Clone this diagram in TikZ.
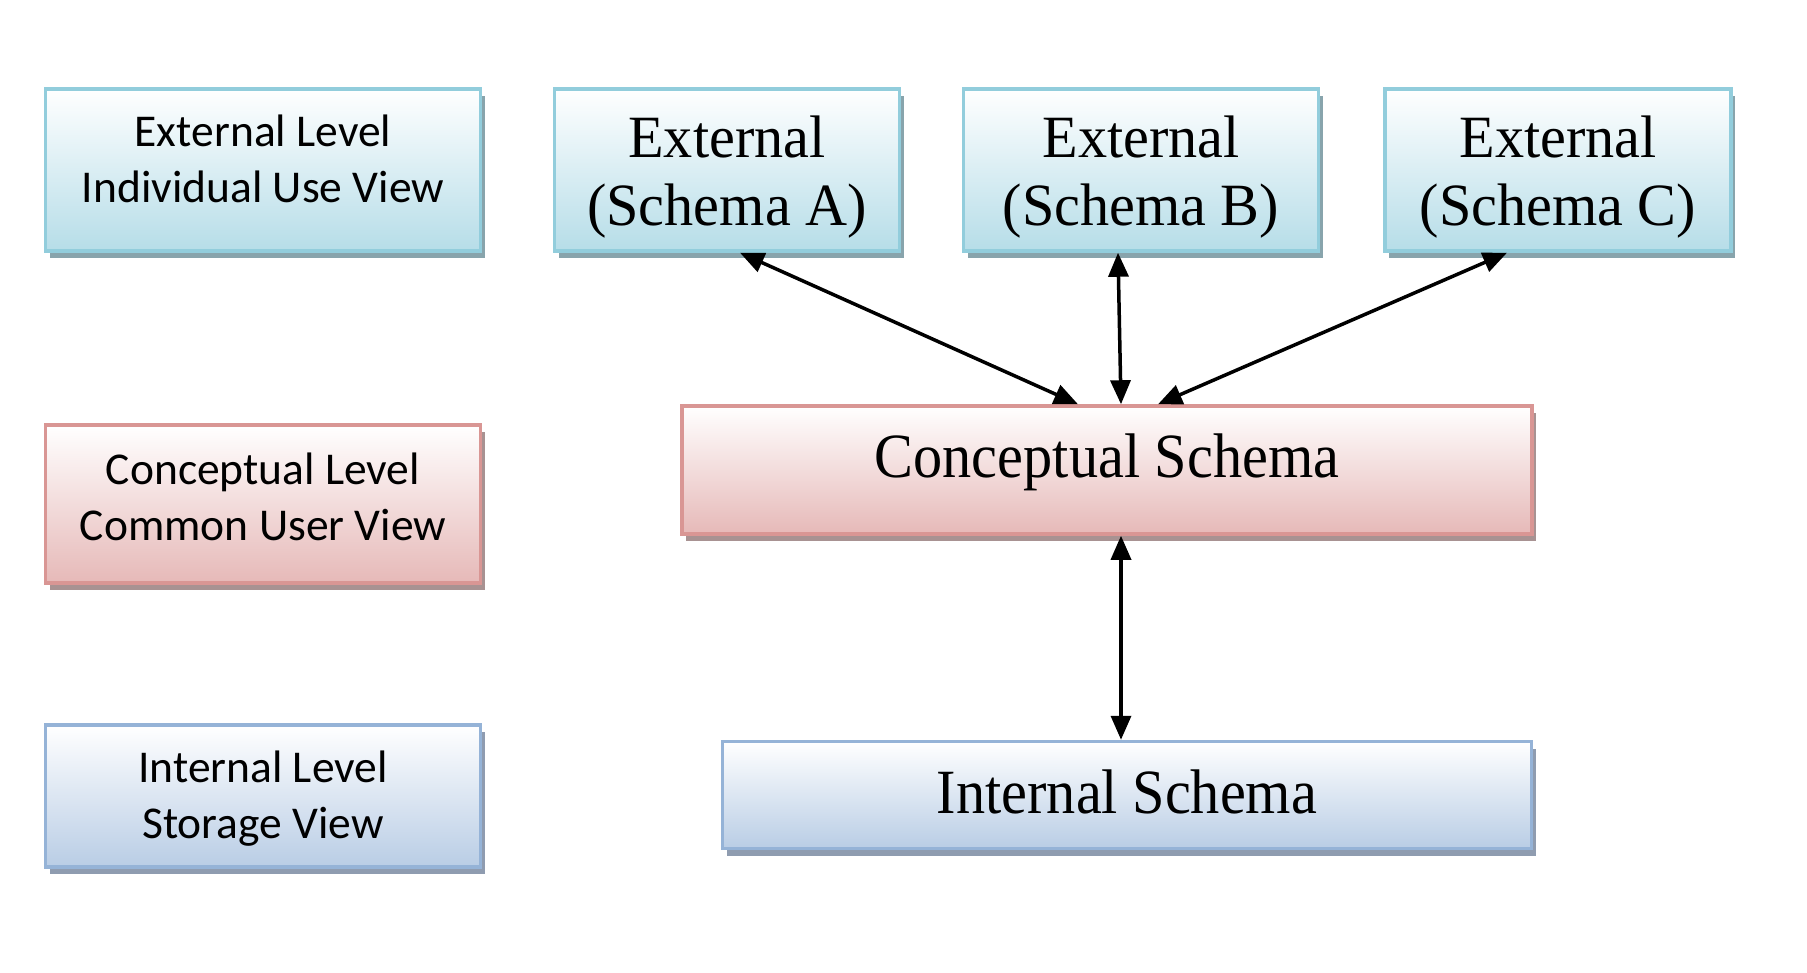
\documentclass[tikz,border=0pt]{standalone}
\usepackage{fontspec}
\setmainfont{Liberation Serif}
\newfontfamily\calfont{Carlito}
\newfontfamily\extfont[FakeStretch=0.97]{Liberation Serif}
\newfontfamily\cnsfont[FakeStretch=0.925]{Liberation Serif}
\usetikzlibrary{arrows.meta,shadows}
\definecolor{aquabd}{HTML}{92CDDC}
\definecolor{aquafill}{HTML}{B6DDE8}
\definecolor{aquash}{HTML}{88A4AC}
\definecolor{redbd}{HTML}{D99694}
\definecolor{redfill}{HTML}{E6B9B8}
\definecolor{redsh}{HTML}{A89292}
\definecolor{bluebd}{HTML}{95B3D7}
\definecolor{bluefill}{HTML}{B9CDE5}
\definecolor{bluesh}{HTML}{8F9CB0}
% text with fixed height (#1) above the first baseline and depth (#2) below the last
\newcommand\boxtext[3]{\rule{0pt}{#1}#3\rule[-#2]{0pt}{#2}}
\tikzset{
  box/.style={rectangle, line width=3.5pt, inner sep=0pt, align=center, text=black},
  aquabox/.style={box, draw=aquabd, top color=white, bottom color=aquafill,
    drop shadow={shadow xshift=4pt, shadow yshift=-7pt, opacity=1, fill=aquash}},
  redbox/.style={box, draw=redbd, top color=white, bottom color=redfill,
    drop shadow={shadow xshift=4pt, shadow yshift=-7pt, opacity=1, fill=redsh}},
  bluebox/.style={box, draw=bluebd, top color=white, bottom color=bluefill,
    drop shadow={shadow xshift=4pt, shadow yshift=-7pt, opacity=1, fill=bluesh}},
  leftlbl/.style={font=\calfont\fontsize{45.5}{56}\selectfont},
  extlbl/.style={font=\extfont\fontsize{60}{68}\selectfont},
  schlbl/.style={font=\cnsfont\fontsize{63}{70}\selectfont},
  link/.style={line width=3.5pt, {Triangle[length=24pt,width=20pt]}-{Triangle[length=24pt,width=20pt]}}
}
\begin{document}
\begin{tikzpicture}[x=1pt,y=-1pt]
\useasboundingbox (0,0) rectangle (1807,972);
% left labels
\node[aquabox, leftlbl, minimum width=435pt, minimum height=162pt] (extL) at (263,170)
  {\boxtext{40pt}{31pt}{External Level\\Individual Use View}};
\node[redbox, leftlbl, minimum width=435pt, minimum height=158pt] (concL) at (263,504)
  {\boxtext{40pt}{24pt}{Conceptual Level\\Common User View}};
\node[bluebox, leftlbl, minimum width=435pt, minimum height=142pt] (intL) at (263,796)
  {\boxtext{40pt}{11pt}{Internal Level\\Storage View}};
% external schemas
\node[aquabox, extlbl, minimum width=345pt, minimum height=162pt] (extA) at (727,170)
  {\boxtext{56pt}{12pt}{External\\(Schema A)}};
\node[aquabox, extlbl, minimum width=355pt, minimum height=162pt] (extB) at (1141,170)
  {\boxtext{56pt}{12pt}{External\\(Schema B)}};
\node[aquabox, extlbl, minimum width=346pt, minimum height=162pt] (extC) at (1558,170)
  {\boxtext{56pt}{12pt}{External\\(Schema C)}};
% conceptual and internal schema
\node[redbox, schlbl, minimum width=850pt, minimum height=128pt] (concS) at (1107,470)
  {\boxtext{50pt}{36pt}{Conceptual Schema}};
\node[bluebox, schlbl, minimum width=809pt, minimum height=107pt] (intS) at (1127,795)
  {\boxtext{50pt}{14pt}{Internal Schema}};
% connectors
\draw[link] ([xshift=13pt]extA.south) -- ([xshift=-29pt]concS.north);
\draw[link] ([xshift=-23pt]extB.south) -- ([xshift=14pt]concS.north);
\draw[link] ([xshift=-51pt]extC.south) -- ([xshift=51pt]concS.north);
\draw[link] ([xshift=14pt]concS.south) -- ([xshift=-6pt]intS.north);
\end{tikzpicture}
\end{document}
